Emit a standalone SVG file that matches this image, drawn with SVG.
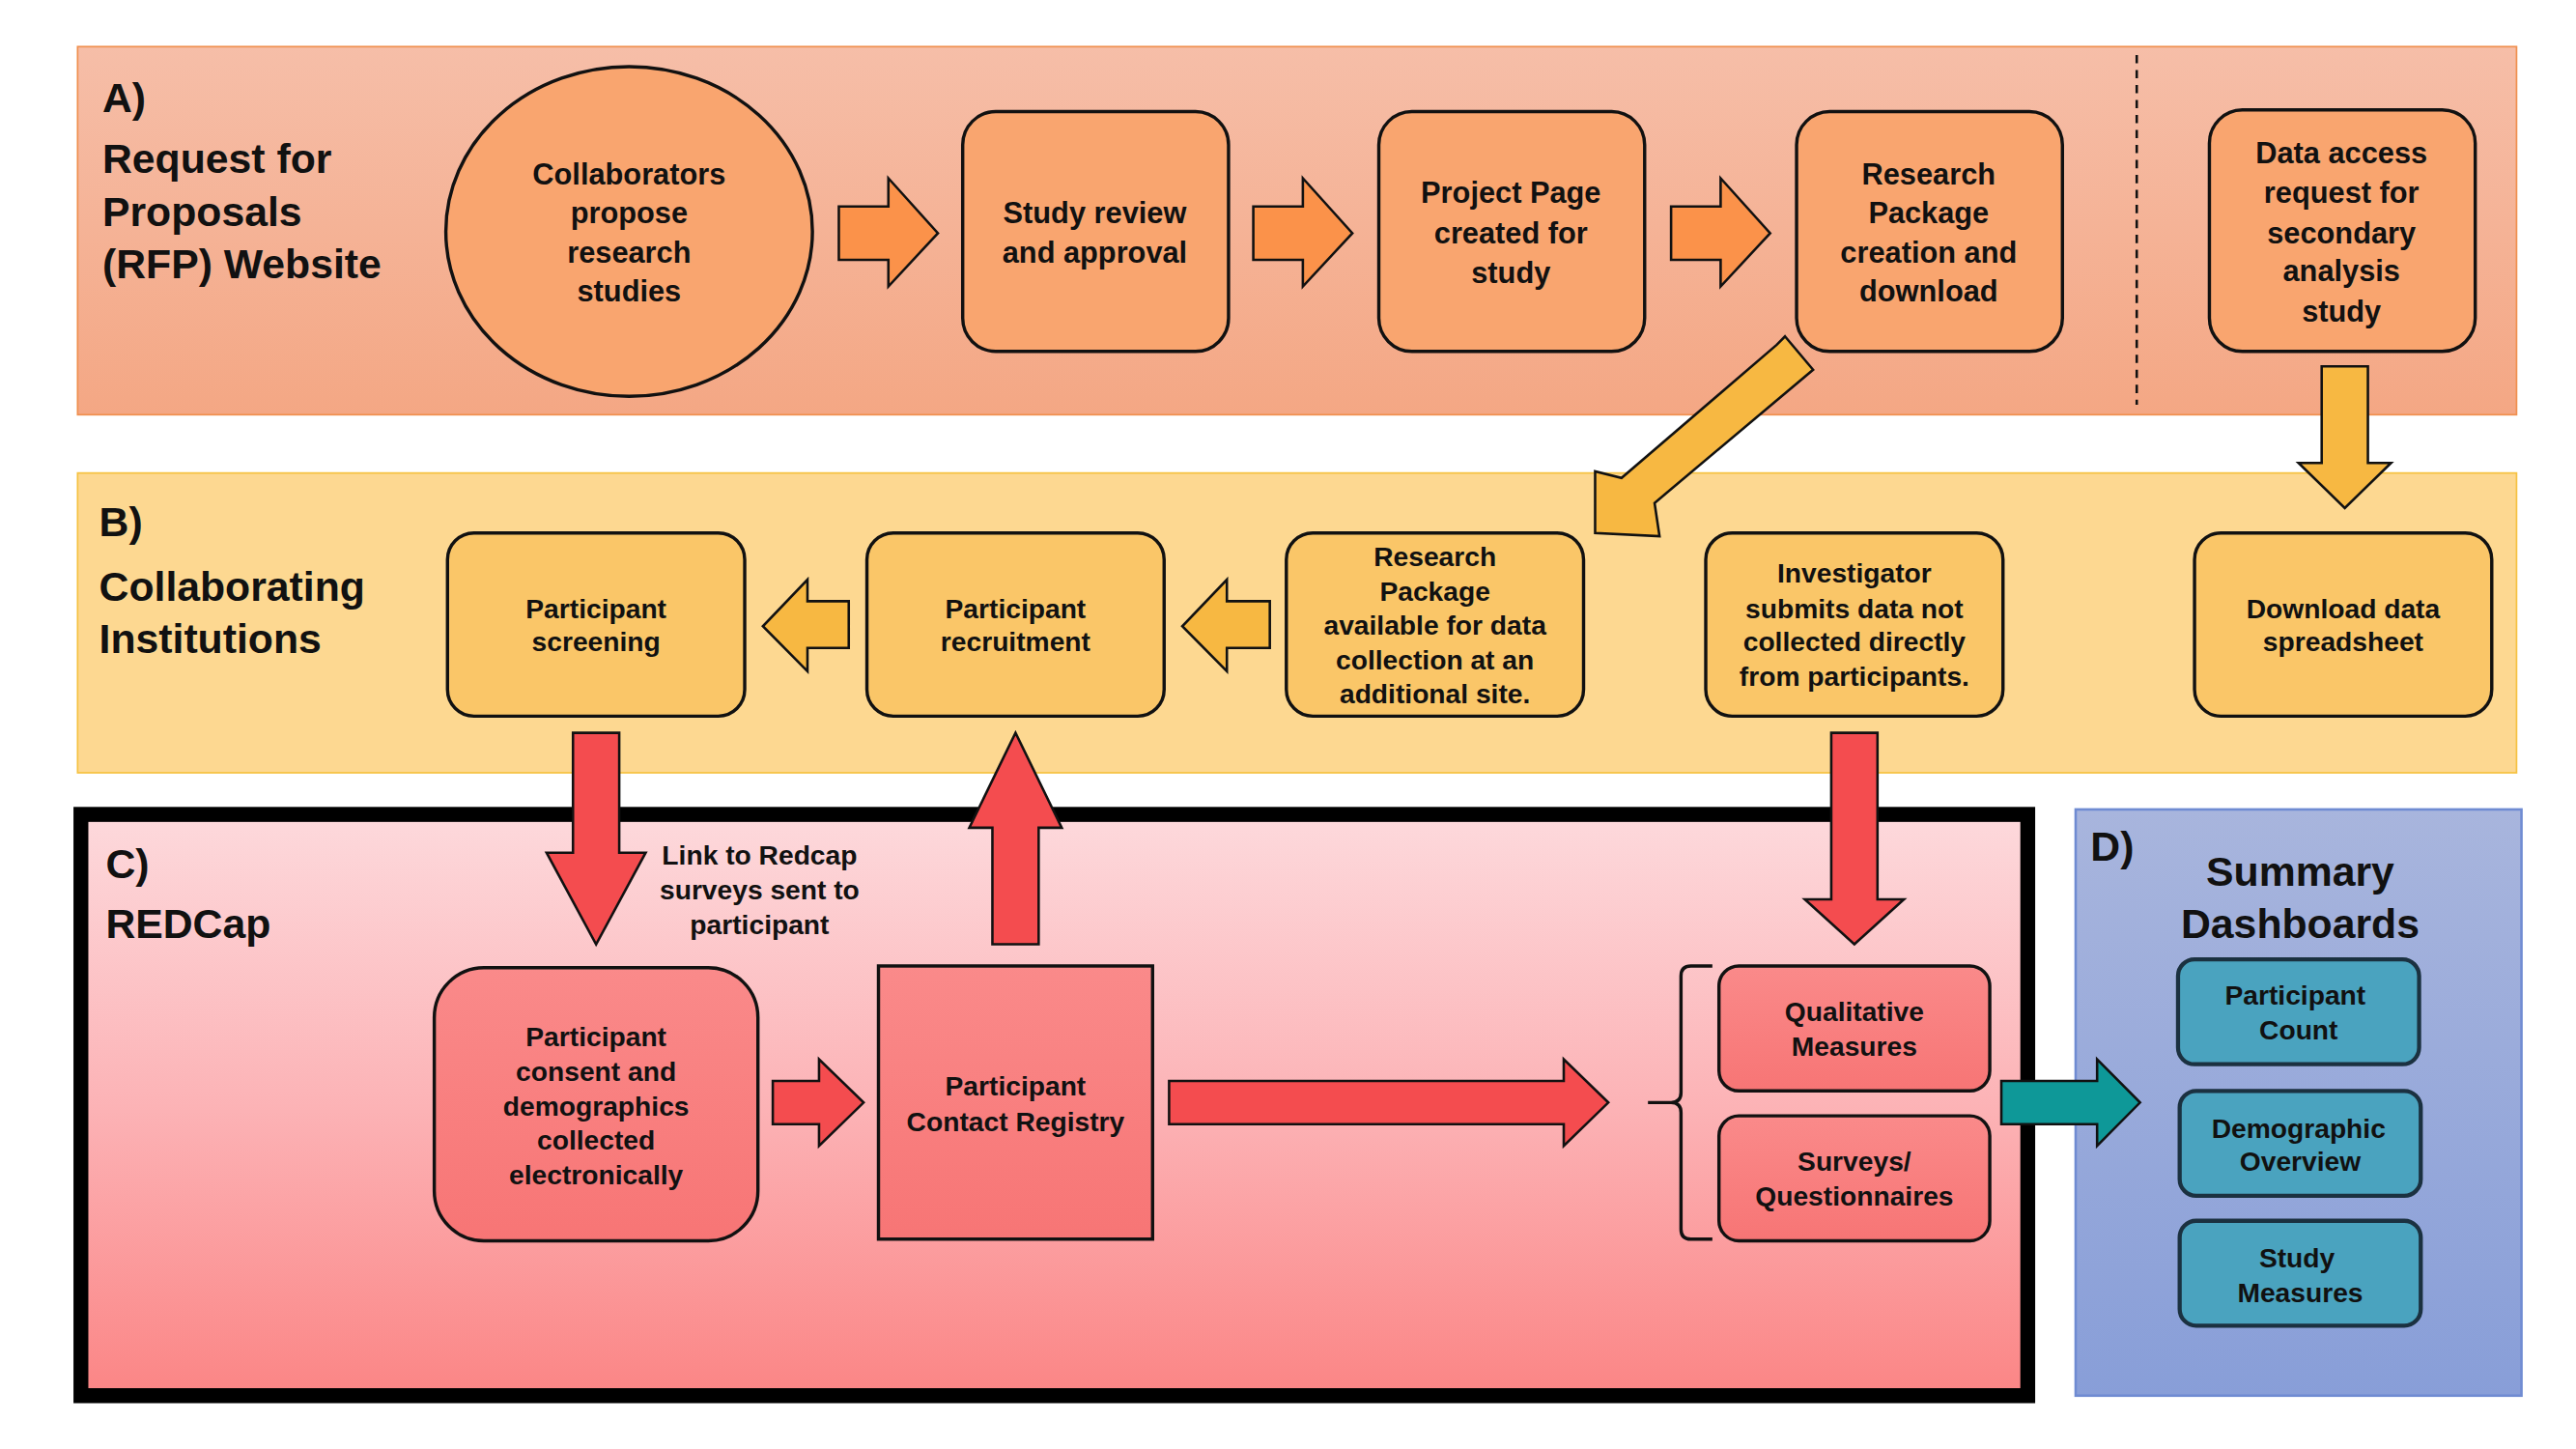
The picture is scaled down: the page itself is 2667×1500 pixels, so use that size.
<svg xmlns="http://www.w3.org/2000/svg" width="2667" height="1500" viewBox="0 0 2667 1500">
<defs>
<linearGradient id="gA" x1="0" y1="0" x2="0" y2="1"><stop offset="0" stop-color="#f6bea8"/><stop offset="1" stop-color="#f4a784"/></linearGradient>
<linearGradient id="gC" x1="0" y1="0" x2="0" y2="1"><stop offset="0" stop-color="#fdd9dc"/><stop offset="0.5" stop-color="#fcb3b6"/><stop offset="1" stop-color="#fb8585"/></linearGradient>
<linearGradient id="gD" x1="0" y1="0" x2="0" y2="1"><stop offset="0" stop-color="#a8b5dd"/><stop offset="1" stop-color="#889ed8"/></linearGradient>
<linearGradient id="gCb" x1="0" y1="0" x2="0" y2="1"><stop offset="0" stop-color="#fa8a8a"/><stop offset="1" stop-color="#f77575"/></linearGradient>
</defs>
<style>
text{font-family:"Liberation Sans",Arial,sans-serif;font-weight:bold;fill:#111;}
.t{font-size:18px;text-anchor:middle}
.s{font-size:16.5px;text-anchor:middle}
.h{font-size:25px}
.bA{fill:#f9a56f;stroke:#111;stroke-width:2}
.bB{fill:#fac668;stroke:#111;stroke-width:2}
.bC{fill:url(#gCb);stroke:#111;stroke-width:2}
.bD{fill:#4aa3bf;stroke:#1b3140;stroke-width:2.5}
.aO{fill:#fb924a;stroke:#111;stroke-width:1.5}
.aY{fill:#f7b842;stroke:#111;stroke-width:1.5}
.aR{fill:#f44c4f;stroke:#111;stroke-width:1.5}
.aT{fill:#0e9898;stroke:#111;stroke-width:1.5}
</style>
<g transform="scale(1.7096 1.7241)">
<g id="panelA">
<rect x="47" y="28" width="1477" height="221" fill="url(#gA)" stroke="#f0904f" stroke-width="1"/>
<text class="h" x="62" y="67">A)</text>
<text class="h" x="62" y="104">Request for</text>
<text class="h" x="62" y="136">Proposals</text>
<text class="h" x="62" y="167">(RFP) Website</text>
<line x1="1294" y1="33" x2="1294" y2="243" stroke="#111" stroke-width="1.5" stroke-dasharray="5,4"/>
</g>
<g id="panelB">
<rect x="47" y="284" width="1477" height="180" fill="#fdd891" stroke="#f6c242" stroke-width="1"/>
<text class="h" x="60" y="322">B)</text>
<text class="h" x="60" y="361">Collaborating</text>
<text class="h" x="60" y="392">Institutions</text>
</g>
<g id="panelC">
<rect x="49" y="489" width="1179" height="349" fill="url(#gC)" stroke="#000" stroke-width="9"/>
<text class="h" x="64" y="527">C)</text>
<text class="h" x="64" y="563">REDCap</text>
</g>
<g id="panelD">
<rect x="1257" y="486" width="270" height="352" fill="url(#gD)" stroke="#6f8bd2" stroke-width="1.5"/>
<text class="h" x="1266" y="517">D)</text>
<text class="h" x="1393" y="532" text-anchor="middle">Summary</text>
<text class="h" x="1393" y="563" text-anchor="middle">Dashboards</text>
</g>
<g id="n1"><ellipse cx="381" cy="139" rx="111" ry="99" class="bA"/>
<text class="t" x="381" y="111">Collaborators</text><text class="t" x="381" y="134">propose</text><text class="t" x="381" y="158">research</text><text class="t" x="381" y="181">studies</text></g>
<g id="n2"><rect x="583" y="67" width="161" height="144" rx="20" class="bA"/>
<text class="t" x="663" y="134">Study review</text><text class="t" x="663" y="158">and approval</text></g>
<g id="n3"><rect x="835" y="67" width="161" height="144" rx="20" class="bA"/>
<text class="t" x="915" y="122">Project Page</text><text class="t" x="915" y="146">created for</text><text class="t" x="915" y="170">study</text></g>
<g id="n4"><rect x="1088" y="67" width="161" height="144" rx="20" class="bA"/>
<text class="t" x="1168" y="111">Research</text><text class="t" x="1168" y="134">Package</text><text class="t" x="1168" y="158">creation and</text><text class="t" x="1168" y="181">download</text></g>
<g id="n5"><rect x="1338" y="66" width="161" height="145" rx="20" class="bA"/>
<text class="t" x="1418" y="98">Data access</text><text class="t" x="1418" y="122">request for</text><text class="t" x="1418" y="146">secondary</text><text class="t" x="1418" y="169">analysis</text><text class="t" x="1418" y="193">study</text></g>
<g id="n6"><rect x="271" y="320" width="180" height="110" rx="16" class="bB"/>
<text class="s" x="361" y="371">Participant</text><text class="s" x="361" y="391">screening</text></g>
<g id="n7"><rect x="525" y="320" width="180" height="110" rx="16" class="bB"/>
<text class="s" x="615" y="371">Participant</text><text class="s" x="615" y="391">recruitment</text></g>
<g id="n8"><rect x="779" y="320" width="180" height="110" rx="16" class="bB"/>
<text class="s" x="869" y="340">Research</text><text class="s" x="869" y="361">Package</text><text class="s" x="869" y="381">available for data</text><text class="s" x="869" y="402">collection at an</text><text class="s" x="869" y="422">additional site.</text></g>
<g id="n9"><rect x="1033" y="320" width="180" height="110" rx="16" class="bB"/>
<text class="s" x="1123" y="350">Investigator</text><text class="s" x="1123" y="371">submits data not</text><text class="s" x="1123" y="391">collected directly</text><text class="s" x="1123" y="412">from participants.</text></g>
<g id="n10"><rect x="1329" y="320" width="180" height="110" rx="16" class="bB"/>
<text class="s" x="1419" y="371">Download data</text><text class="s" x="1419" y="391">spreadsheet</text></g>
<g id="n11"><rect x="263" y="581" width="196" height="164" rx="30" class="bC"/>
<text class="s" x="361" y="628">Participant</text><text class="s" x="361" y="649">consent and</text><text class="s" x="361" y="670">demographics</text><text class="s" x="361" y="690">collected</text><text class="s" x="361" y="711">electronically</text></g>
<g id="n12"><rect x="532" y="580" width="166" height="164" class="bC"/>
<text class="s" x="615" y="658">Participant</text><text class="s" x="615" y="679">Contact Registry</text></g>
<g id="n13"><rect x="1041" y="580" width="164" height="75" rx="12" class="bC"/>
<text class="s" x="1123" y="613">Qualitative</text><text class="s" x="1123" y="634">Measures</text></g>
<g id="n14"><rect x="1041" y="670" width="164" height="75" rx="12" class="bC"/>
<text class="s" x="1123" y="703">Surveys/</text><text class="s" x="1123" y="724">Questionnaires</text></g>
<g id="n15"><rect x="1319" y="576" width="146" height="63" rx="10" class="bD"/>
<text class="s" x="1390" y="603">Participant</text><text class="s" x="1392" y="624">Count</text></g>
<g id="n16"><rect x="1320" y="655" width="146" height="63" rx="10" class="bD"/>
<text class="s" x="1392" y="683">Demographic</text><text class="s" x="1393" y="703">Overview</text></g>
<g id="n17"><rect x="1320" y="733" width="146" height="63" rx="10" class="bD"/>
<text class="s" x="1391" y="761">Study</text><text class="s" x="1393" y="782">Measures</text></g>
<g id="connectors">
<polygon class="aO" points="508,124 538,124 538,107 568,140 538,172 538,156 508,156"/>
<polygon class="aO" points="759,124 789,124 789,107 819,140 789,172 789,156 759,156"/>
<polygon class="aO" points="1012,124 1042,124 1042,107 1072,140 1042,172 1042,156 1012,156"/>
<polygon class="aY" points="1081,202 1098,222 1002,302 1005,322 966,320 966,283 982,287 1076,207"/>
<polygon class="aY" points="1406,220 1434,220 1434,278 1448,278 1420,305 1392,278 1406,278"/>
<polygon class="aY" points="514,361 489,361 489,348 462,376 489,403 489,389 514,389"/>
<polygon class="aY" points="769,361 743,361 743,348 716,376 743,403 743,389 769,389"/>
<polygon class="aR" points="347,440 375,440 375,512 391,512 361,567 331,512 347,512"/>
<polygon class="aR" points="601,567 629,567 629,497 643,497 615,440 587,497 601,497"/>
<polygon class="aR" points="1109,440 1137,440 1137,540 1153,540 1123,567 1093,540 1109,540"/>
<polygon class="aR" points="468,649 496,649 496,636 523,662 496,688 496,675 468,675"/>
<polygon class="aR" points="708,649 947,649 947,636 974,662 947,688 947,675 708,675"/>
<polygon class="aT" points="1212,649 1270,649 1270,636 1296,662 1270,688 1270,675 1212,675"/>
<path d="M1037,580 H1024 Q1018,580 1018,586 V656 Q1018,662 1012,662 H998 H1012 Q1018,662 1018,668 V738 Q1018,744 1024,744 H1037" fill="none" stroke="#111" stroke-width="2"/>
<text class="s" x="460" y="519">Link to Redcap</text><text class="s" x="460" y="540">surveys sent to</text><text class="s" x="460" y="561">participant</text>
</g>
</g>
</svg>
